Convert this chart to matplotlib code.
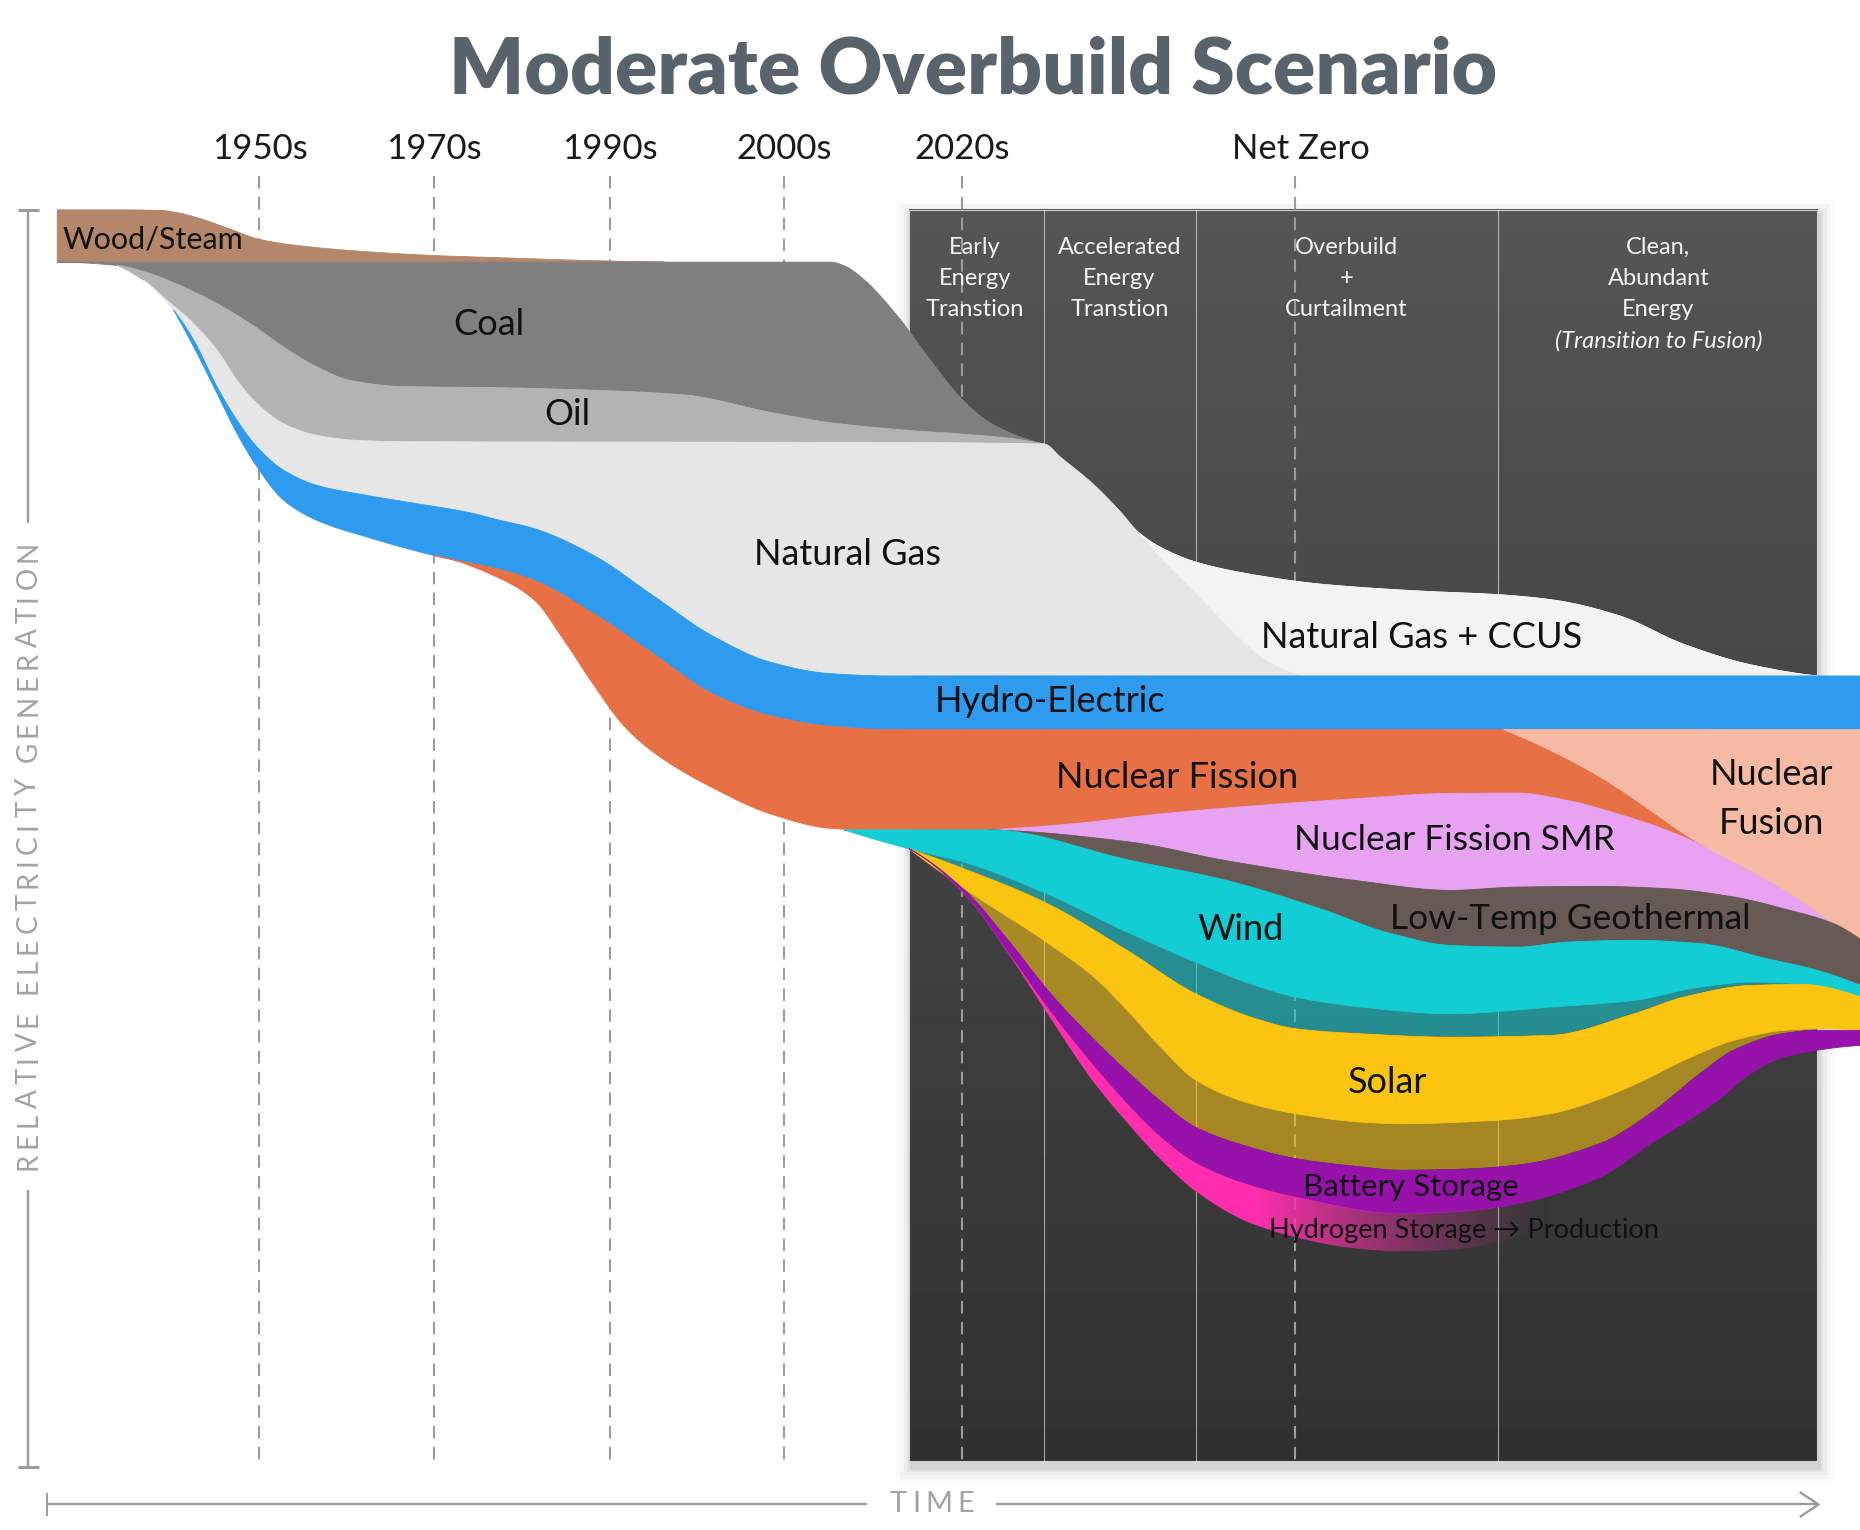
import numpy as np
import matplotlib
matplotlib.use("Agg")
import matplotlib.pyplot as plt
from matplotlib.patches import Rectangle, Polygon

plt.rcParams['font.family'] = ['Lato', 'DejaVu Sans']

# canvas units: reference layout, x to the right, y downward
W, H = 1568, 1290

# ---------------- data ----------------
TITLE = "Moderate Overbuild Scenario"
ERA_LABELS = ["1950s", "1970s", "1990s", "2000s", "2020s", "Net Zero"]
ERA_X = [218, 366, 514, 661, 811, 1092]
ERA_LABEL_X = [219, 366, 514, 661, 811, 1097]

PHASE_LABELS = [["Early", "Energy", "Transtion"],
                ["Accelerated", "Energy", "Transtion"],
                ["Overbuild", "+", "Curtailment"],
                ["Clean,", "Abundant", "Energy", "(Transition to Fusion)"]]
PHASE_EDGES = [766, 880, 1008, 1263, 1532]
PHASE_LABEL_X = [822, 943.6, 1135, 1398]

# band boundaries (x, y)
WOOD_TOP_X = [47.8, 100, 135, 152, 168.6, 196.7, 216.4, 238.9, 295.1, 365.3, 421.5, 500, 560]
WOOD_TOP_Y = [176.5, 176.5, 177, 179.5, 184, 193.9, 200.9, 205.1, 210.8, 215, 216.9, 219.3, 220.6]
COAL_TOP_X = [47.8, 700, 712, 727, 755, 783, 810.4, 832.6, 860, 880]
COAL_TOP_Y = [220.6, 220.6, 224, 234.5, 264.6, 302, 336, 355, 368, 374]
COAL_BOT_X = [47.8, 98.4, 126.5, 154.5, 182.7, 210.8, 238.9, 267, 295.1, 337.2, 421.5, 500, 575, 650,
              700, 760, 810, 850, 880]
COAL_BOT_Y = [220.6, 223.4, 230.4, 241.7, 255.7, 272.6, 292.3, 309.1, 320.4, 325.4, 326.5, 328.6, 332.4,
              347.4, 356, 362, 365.5, 369, 374]
GAS_TOP_X = [98.4, 120.8, 140.5, 160.2, 182.7, 199.5, 216.4, 238.9, 267, 300.7, 340, 700, 880, 893.5,
             921, 943.3, 960, 976.6, 1007.6, 1059.6, 1115, 1198, 1263, 1309, 1364, 1419.5, 1475, 1532]
GAS_TOP_Y = [223.4, 236, 252.9, 269.8, 295, 320.4, 340, 356.9, 366.7, 370.9, 372, 372.5, 374, 385,
             407.6, 430.2, 449, 460.3, 473.5, 484.8, 492.3, 498, 501, 505.5, 518.6, 543, 560, 569.5]
CCUS_LOW_X = [960, 976.6, 998.7, 1020.9, 1043, 1065.2, 1087.3, 1104, 1532]
CCUS_LOW_Y = [449, 467.8, 490.4, 513, 535.6, 554.4, 565.7, 569.5, 569.5]
HYDRO_TOP_X = [120.8, 146.1, 163, 182.7, 199.5, 216.4, 238.9, 267, 309.1, 351.3, 393.4, 421.5, 450,
               500, 550, 600, 650, 700, 750, 1568]
HYDRO_TOP_Y = [236, 261.3, 286.6, 326, 354.1, 376.6, 396.2, 408.9, 417.3, 424.3, 431.4, 438.4, 445.3,
               467.8, 501.7, 535.6, 558.2, 567.6, 569.5, 569.5]
HYDRO_BOT_X = [146.1, 163, 182.7, 199.5, 216.4, 238.9, 267, 309.1, 365.3, 421.5, 450, 500, 550, 600,
               650, 700, 750, 1568]
HYDRO_BOT_Y = [261.3, 292.3, 331.6, 365.3, 393.4, 421.5, 438.4, 452.4, 467.9, 480, 489, 517, 550.6,
               584.5, 603.3, 612, 614.8, 614.8]
NUC_HIST_X = [365.3, 421.5, 450, 475, 500, 525, 550, 600, 650, 700, 730]
NUC_HIST_Y = [467.9, 487.5, 505.5, 539.4, 577, 610.9, 633.5, 663.6, 686.1, 698, 699.3]
SMR_TOP_X = [833, 900, 976.5, 1050, 1142.7, 1222.4, 1278.6, 1320.8, 1362.9, 1405, 1437.4, 1475.3,
             1517.5, 1545.5]
SMR_TOP_Y = [699.3, 694.5, 686, 679.5, 673, 668.5, 668.3, 674.4, 685.7, 699.7, 713.7, 733.4, 758.7, 778.4]
FUSION_EDGE_X = [1267.3, 1306.7, 1348.8, 1391, 1419.1, 1437.4]
FUSION_EDGE_Y = [614.8, 632.3, 654.8, 682.9, 702.5, 713.7]
GEO_TOP_X = [833, 952.6, 1032, 1142.7, 1222.4, 1278.6, 1348.8, 1405, 1461.2, 1503.4, 1545.5, 1568]
GEO_TOP_Y = [699.3, 709.6, 725, 742, 750.3, 747.5, 747, 748.9, 755.9, 765.8, 778.4, 791.5]
WIND_TOP_X = [711, 834, 952.6, 1032, 1115, 1170.4, 1222.4, 1278.6, 1320.8, 1376.9, 1433.1, 1489.4,
              1531.5, 1568]
WIND_TOP_Y = [699.3, 699.3, 725, 741.5, 766.6, 786.2, 796.7, 798.1, 793.9, 792.4, 795.2, 807.9, 817.7, 830.4]
WIND_BOT_X = [711, 765.8, 812, 879.6, 949.8, 1007.4, 1059.6, 1091.7, 1146.5, 1222.4, 1306.7,
              1376.9, 1433.1, 1475.3, 1517.5, 1568]
WIND_BOT_Y = [699.3, 715.2, 726.4, 752, 785.4, 810.7, 831, 840.2, 848.6, 854.3, 848.7, 843,
              831.8, 827.6, 829, 840.2]
SOLAR_TOP_X = [765.8, 812, 879.6, 949.8, 1007.4, 1059.6, 1091.7, 1146.5, 1222.4, 1306.7, 1376.9,
               1419.1, 1475.3, 1517.5, 1568]
SOLAR_TOP_Y = [715.2, 732, 760, 800.9, 837.4, 858.9, 866.9, 871.1, 874, 872.5, 854.3, 840.2,
               830.4, 829.5, 840.2]
SOLAR_BOT_X = [765.8, 812.6, 879.6, 921.7, 949.8, 977.9, 1007.4, 1050, 1091.7, 1146.5, 1180.2, 1263,
               1306.7, 1348.8, 1385, 1419.1, 1461.2, 1503.4, 1531.5, 1568]
SOLAR_BOT_Y = [715.2, 748.9, 792.5, 823.3, 851.4, 882.3, 910, 929, 938.5, 945.6, 947, 944, 938.6,
               926, 910.5, 893.6, 876.8, 868.3, 866.9, 868.3]
BATT_TOP_X = [765.8, 812.6, 850, 885.8, 921.7, 949.8, 977.9, 1007.4, 1050, 1091.7, 1146.5, 1180.2, 1230,
              1278.6, 1348.8, 1391, 1433.1, 1461.2, 1503.4, 1531.5, 1568]
BATT_TOP_Y = [715.2, 750, 793, 838, 876, 903, 928, 950, 966, 976.5, 983.5, 986.3, 985.5,
              982.1, 963.8, 938.6, 904.8, 885.2, 871.1, 868.3, 868.3]
BATT_BOT_X = [765.8, 812.6, 850, 885.8, 921.7, 949.8, 977.9, 1007.4, 1050, 1091.7, 1180.2, 1230, 1278.6,
              1348.8, 1391, 1420, 1447, 1475, 1503, 1531.5, 1568]
BATT_BOT_Y = [715.2, 753, 803, 853, 898, 930, 958, 980, 998, 1009, 1022.9, 1021, 1014.4, 992,
              963.8, 946, 928, 905, 891, 885, 881]
H2_BOT_X = [765.8, 812.6, 850, 880, 921.7, 949.8, 977.9, 1007.4, 1053.8, 1100, 1138.1, 1180, 1222.4,
            1278.6, 1334.8, 1365, 1391]
H2_BOT_Y = [715.2, 753.5, 804, 850, 912, 946, 977, 1004, 1031, 1045, 1052, 1055, 1053.8, 1042.5,
            1017.3, 995, 963.8]

COLORS = {
    "wood": "#b4866a", "coal": "#7f7f7f", "oil": "#b3b3b3", "gas": "#e6e6e6", "ccus": "#f3f3f3",
    "hydro": "#2f9bef", "nuclear": "#e87045", "fusion": "#f6b9a3", "smr": "#e7a2f2",
    "geo": "#675953", "wind": "#13cdd4", "solar": "#f9c511", "battery": "#9712ab", "hydrogen": "#ff2eae",
}

BAND_LABELS = [
    ("Wood/Steam", 129, 209.4, 22),
    ("Coal", 411.7, 282.3, 26),
    ("Oil", 478.2, 358.7, 26),
    ("Natural Gas", 714.5, 476.1, 26),
    ("Natural Gas + CCUS", 1198, 546.1, 26),
    ("Hydro-Electric", 885.2, 600, 26),
    ("Nuclear Fission", 992.6, 664.3, 26),
    ("Nuclear", 1493.5, 661.7, 26),
    ("Fusion", 1493, 703.1, 26),
    ("Nuclear Fission SMR", 1225.9, 717, 25.5),
    ("Wind", 1046, 792.4, 26),
    ("Low-Temp Geothermal", 1323.4, 783.5, 25.5),
    ("Solar", 1169.7, 921.2, 26),
    ("Battery Storage", 1189.4, 1008.8, 22.5),
    ("Hydrogen Storage \u2192 Production", 1234.5, 1044, 19.5),
]

# ---------------- helpers ----------------
def _end_slope(h0, h1, m0, m1):
    d = ((2 * h0 + h1) * m0 - h0 * m1) / (h0 + h1)
    if np.sign(d) != np.sign(m0):
        d = 0.0
    elif np.sign(m0) != np.sign(m1) and abs(d) > abs(3 * m0):
        d = 3 * m0
    return d


def pchip(xk, yk, xs):
    xk = np.asarray(xk, float)
    yk = np.asarray(yk, float)
    h = np.diff(xk)
    m = np.diff(yk) / h
    n = len(xk)
    d = np.zeros(n)
    if n == 2:
        d[:] = m[0]
    else:
        for k in range(1, n - 1):
            if m[k - 1] * m[k] > 0:
                w1 = 2 * h[k] + h[k - 1]
                w2 = h[k] + 2 * h[k - 1]
                d[k] = (w1 + w2) / (w1 / m[k - 1] + w2 / m[k])
        d[0] = _end_slope(h[0], h[1], m[0], m[1])
        d[-1] = _end_slope(h[-1], h[-2], m[-1], m[-2])
    xs = np.asarray(xs, float)
    i = np.clip(np.searchsorted(xk, xs) - 1, 0, n - 2)
    t = (xs - xk[i]) / h[i]
    h00 = 2 * t**3 - 3 * t**2 + 1
    h10 = t**3 - 2 * t**2 + t
    h01 = -2 * t**3 + 3 * t**2
    h11 = t**3 - t**2
    return h00 * yk[i] + h10 * h[i] * d[i] + h01 * yk[i + 1] + h11 * h[i] * d[i + 1]


fig = plt.figure(figsize=(18.6, 15.3), dpi=100)
ax = fig.add_axes([0, 0, 1, 1])
ax.set_xlim(0, W)
ax.set_ylim(H, 0)
ax.axis('off')


def band(top, bot, x0, x1, color, alpha=1.0, z=3.0, edge=True):
    xs = np.linspace(x0, x1, 900)
    yt = pchip(top[0], top[1], xs)
    yb = pchip(bot[0], bot[1], xs)
    ax.fill_between(xs, yt, yb, facecolor=color, edgecolor=(color if edge else 'none'),
                    linewidth=(0.6 if edge else 0), alpha=alpha, zorder=z)
    return xs, yt, yb


def tracked_text(s, cx, cy, track_px, size, rotation=0, **kw):
    r = fig.canvas.get_renderer()
    ws = []
    for ch in s:
        if ch == ' ':
            ws.append(0.25 * size * 100 / 72)
            continue
        t = ax.text(0, 0, ch, fontsize=size, **kw)
        ws.append(t.get_window_extent(renderer=r).width)
        t.remove()
    total = sum(ws) + track_px * (len(s) - 1)
    k = W / 1860.0
    pos = -total / 2
    for ch, w in zip(s, ws):
        c = (pos + w / 2) * k
        if ch != ' ':
            if rotation == 90:
                ax.text(cx, cy - c, ch, rotation=90, ha='center', va='center', fontsize=size, **kw)
            else:
                ax.text(cx + c, cy, ch, ha='center', va='center', fontsize=size, **kw)
        pos += w + track_px


# ---------------- panel ----------------
PX0, PX1, PY0, PY1 = PHASE_EDGES[0], PHASE_EDGES[-1], 177, 1232
for pad, a in [(14, 0.015), (10, 0.022), (7, 0.03), (4, 0.045), (2, 0.06)]:
    ax.add_patch(Rectangle((PX0 - pad + 3, PY0 - pad + 5), (PX1 - PX0) + 2 * pad - 2, (PY1 - PY0) + 2 * pad,
                           facecolor='black', edgecolor='none', alpha=a, zorder=0.5))
grad = np.linspace(0.335, 0.192, 256)[:, None]
ax.imshow(grad, cmap='gray', vmin=0, vmax=1, extent=(PX0, PX1, PY1, PY0), origin='upper',
          aspect='auto', zorder=1, interpolation='bicubic')
ax.add_patch(Rectangle((PX0, PY0), PX1 - PX0, PY1 - PY0, facecolor='none', edgecolor='#cfcfcf',
                       linewidth=0.8, zorder=1.1))
for xe in PHASE_EDGES[1:-1]:
    ax.plot([xe, xe], [PY0, PY1], color='white', alpha=0.55, linewidth=0.8, zorder=2.5)

# era dashed lines
for xe in ERA_X:
    ax.plot([xe, xe], [148, 1237], color='#9c9c9c', linewidth=1.5, dashes=(6, 4), zorder=2)

# ---------------- bands ----------------
band((WOOD_TOP_X, WOOD_TOP_Y), (COAL_TOP_X, COAL_TOP_Y), 47.8, 560, COLORS["wood"])
band((COAL_TOP_X, COAL_TOP_Y), (COAL_BOT_X, COAL_BOT_Y), 47.8, 880, COLORS["coal"])
band((COAL_BOT_X, COAL_BOT_Y), (GAS_TOP_X, GAS_TOP_Y), 98.4, 880, COLORS["oil"])
band((GAS_TOP_X, GAS_TOP_Y), (HYDRO_TOP_X, HYDRO_TOP_Y), 120.8, 1532, COLORS["gas"])
band((GAS_TOP_X, GAS_TOP_Y), (CCUS_LOW_X, CCUS_LOW_Y), 960, 1532, COLORS["ccus"])
band((HYDRO_TOP_X, HYDRO_TOP_Y), (HYDRO_BOT_X, HYDRO_BOT_Y), 146.1, 1568, COLORS["hydro"])

n_keep = SMR_TOP_X.index(1437.4) + 1
NUC_BOT = (NUC_HIST_X + SMR_TOP_X[:n_keep], NUC_HIST_Y + SMR_TOP_Y[:n_keep])
band((HYDRO_BOT_X, HYDRO_BOT_Y), NUC_BOT, 365.3, 1437.4, COLORS["nuclear"])
band((SMR_TOP_X, SMR_TOP_Y), (GEO_TOP_X, GEO_TOP_Y), 833, 1545.5, COLORS["smr"])
FUSION_LOW = (FUSION_EDGE_X + SMR_TOP_X[n_keep:] + [1568], FUSION_EDGE_Y + SMR_TOP_Y[n_keep:] + [791.5])
band((HYDRO_BOT_X, HYDRO_BOT_Y), FUSION_LOW, 1267.3, 1568, COLORS["fusion"])
band((GEO_TOP_X, GEO_TOP_Y), (WIND_TOP_X, WIND_TOP_Y), 833, 1568, COLORS["geo"])
band((WIND_TOP_X, WIND_TOP_Y), (WIND_BOT_X, WIND_BOT_Y), 711, 1568, COLORS["wind"])
band((WIND_BOT_X, WIND_BOT_Y), (SOLAR_TOP_X, SOLAR_TOP_Y), 765.8, 1532, COLORS["wind"], alpha=0.56,
     edge=False)
band((SOLAR_TOP_X, SOLAR_TOP_Y), (SOLAR_BOT_X, SOLAR_BOT_Y), 765.8, 1568, COLORS["solar"])
band((SOLAR_BOT_X, SOLAR_BOT_Y), (BATT_TOP_X, BATT_TOP_Y), 765.8, 1531.5, COLORS["solar"], alpha=0.56,
     edge=False)
band((BATT_TOP_X, BATT_TOP_Y), (BATT_BOT_X, BATT_BOT_Y), 765.8, 1568, COLORS["battery"])

# hydrogen band with fading gradient
xs = np.linspace(765.8, 1391, 900)
yt = pchip(BATT_BOT_X, BATT_BOT_Y, xs)
yb = pchip(H2_BOT_X, H2_BOT_Y, xs)
poly = Polygon(np.column_stack([np.r_[xs, xs[::-1]], np.r_[yt, yb[::-1]]]), closed=True,
               facecolor='none', edgecolor='none')
ax.add_patch(poly)
gx = np.linspace(765.8, 1391, 600)
alpha = np.clip(1 - (gx - 1060) / 250.0, 0, 1) ** 1.4
rgba = np.zeros((2, gx.size, 4))
rgba[..., :3] = matplotlib.colors.to_rgb(COLORS["hydrogen"])
rgba[..., 3] = alpha[None, :]
im = ax.imshow(rgba, extent=(765.8, 1391, 1070, 700), origin='upper', aspect='auto', zorder=3,
               interpolation='bilinear')
im.set_clip_path(poly)

# ---------------- labels ----------------
for text, x, y, size in BAND_LABELS:
    ax.text(x, y, text, ha='center', va='baseline', fontsize=size, color='#111111', zorder=10)

ax.text(820.5, 78.7, TITLE, ha='center', va='baseline', fontsize=56.5, fontweight='heavy',
        color='#59636b', zorder=10)
for lab, x in zip(ERA_LABELS, ERA_LABEL_X):
    ax.text(x, 134.3, lab, ha='center', va='baseline', fontsize=25, color='#1a1a1a', zorder=10)

PHASE_BASELINES = [213.8, 240.2, 266.6, 292.8]
for lines, x in zip(PHASE_LABELS, PHASE_LABEL_X):
    for j, line in enumerate(lines):
        ax.text(x, PHASE_BASELINES[j], line, ha='center', va='baseline', fontsize=17,
                color='#f2f2f2', style=('italic' if line.startswith('(') else 'normal'), zorder=10)

# axes decorations
gray = '#9b9b9b'
ax.plot([24, 24], [177, 441], color=gray, lw=1.7, solid_capstyle='butt', zorder=2)
ax.plot([15.5, 32.5], [177, 177], color=gray, lw=2.2, solid_capstyle='butt', zorder=2)
ax.plot([24, 24], [1003, 1237], color=gray, lw=1.7, solid_capstyle='butt', zorder=2)
ax.plot([15.5, 32.5], [1237, 1237], color=gray, lw=2.2, solid_capstyle='butt', zorder=2)
tracked_text("RELATIVE ELECTRICITY GENERATION", 24, 721.5, 4.9, 20, rotation=90, color='#a3a3a3',
             fontweight='normal')

ax.plot([40, 731], [1268.5, 1268.5], color=gray, lw=1.7, solid_capstyle='butt', zorder=2)
ax.plot([40, 40], [1259, 1278], color=gray, lw=1.4, solid_capstyle='butt', zorder=2)
ax.plot([840, 1533], [1268.5, 1268.5], color=gray, lw=1.7, solid_capstyle='butt', zorder=2)
ax.plot([1518, 1533, 1518], [1258.5, 1268.5, 1278.5], color=gray, lw=1.7, zorder=2)
tracked_text("TIME", 785.5, 1268.5, 5.0, 21, color='#a3a3a3', fontweight='normal')

ax.set_xlim(0, W)
ax.set_ylim(H, 0)
fig.savefig("out.png", dpi=100, facecolor='white')
